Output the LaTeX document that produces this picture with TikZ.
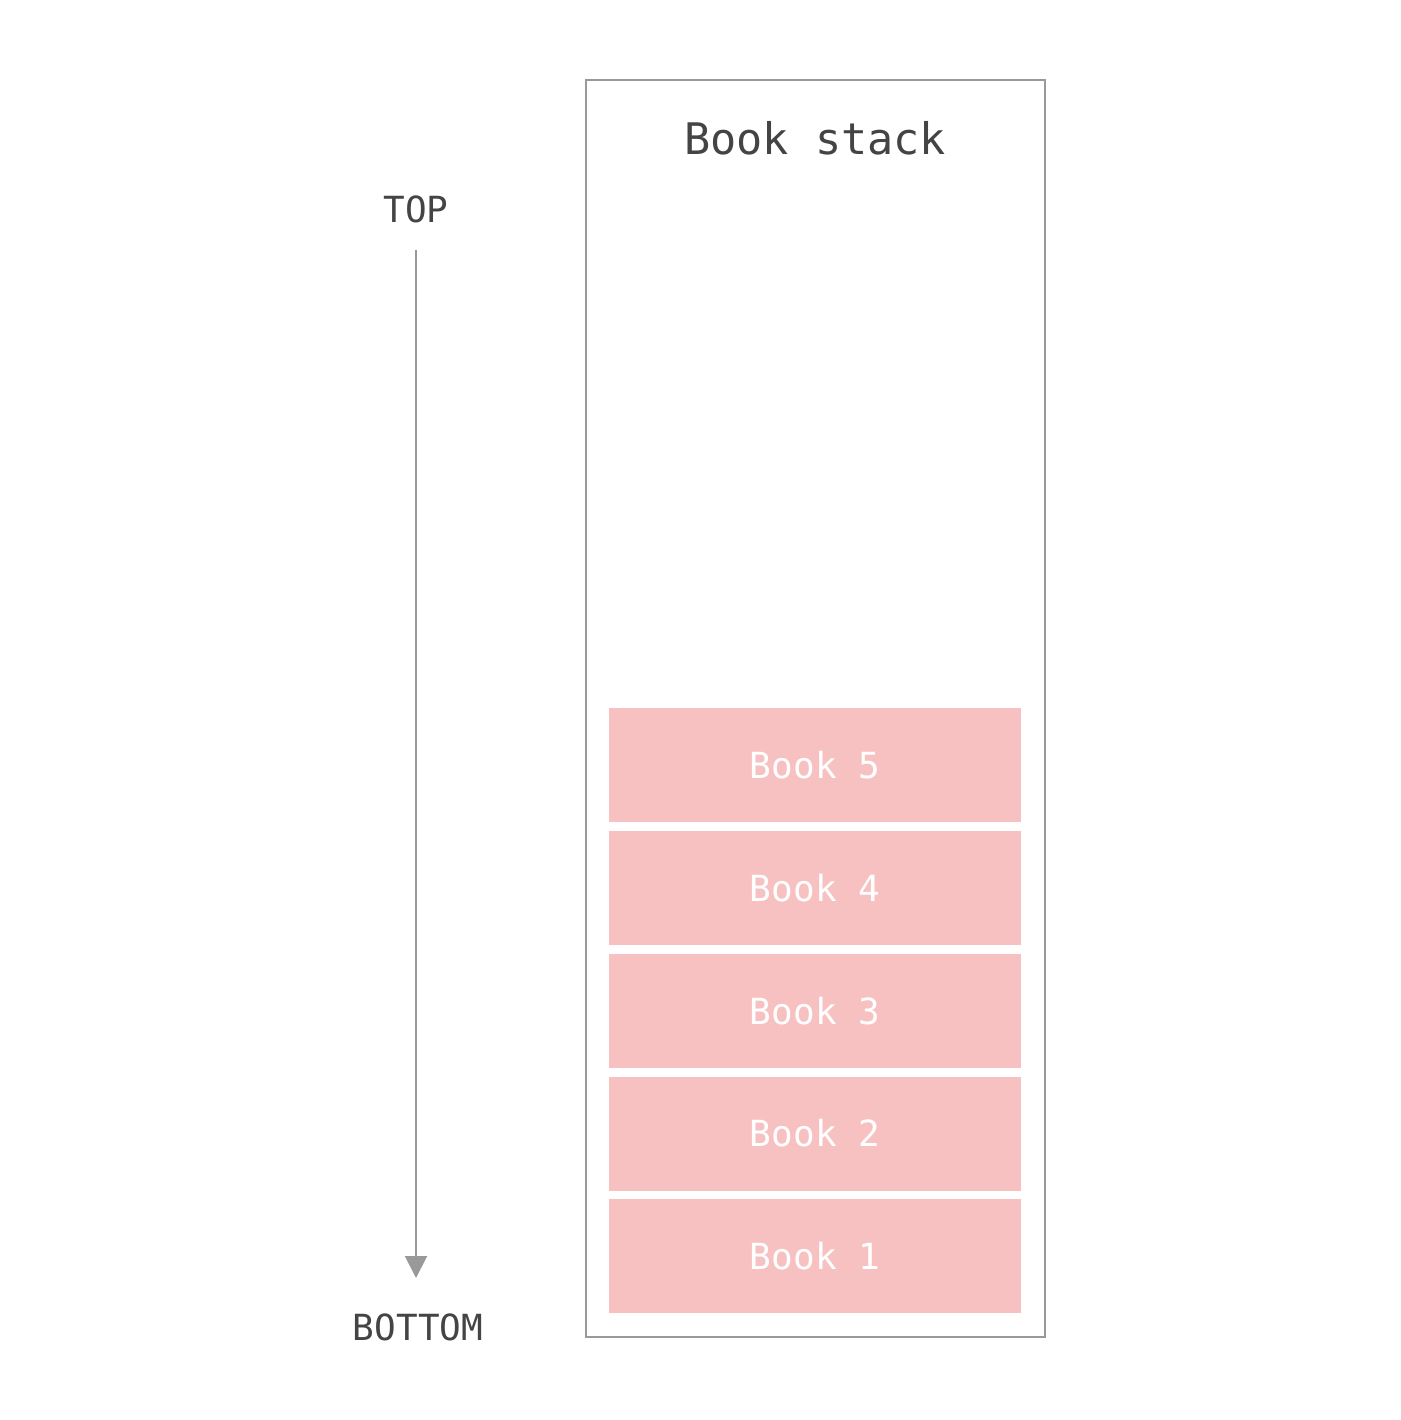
\documentclass[tikz,border=0pt]{standalone}
\usepackage{fontspec}
\setmonofont{DejaVu Sans Mono}
\usetikzlibrary{arrows.meta}
\definecolor{framegray}{HTML}{999999}
\definecolor{textgray}{HTML}{444444}
\definecolor{bookpink}{HTML}{F8C1C1}
\tikzset{
  bookbox/.style={fill=bookpink, draw=none, minimum width=412pt, minimum height=114pt,
    inner sep=0pt, text=white, font=\ttfamily\fontsize{36}{42}\selectfont},
  lbl/.style={text=textgray, inner sep=0pt, font=\ttfamily\fontsize{36}{42}\selectfont},
}
\begin{document}
\begin{tikzpicture}[x=1pt,y=-1pt]
\useasboundingbox (0,0) rectangle (1400,1420);
\node[draw=framegray, line width=2pt, minimum width=459pt, minimum height=1257pt, inner sep=0pt] (stack) at (815.5,708.5) {};
\node[lbl, font=\ttfamily\fontsize{43.5}{50}\selectfont] (title) at (815,138) {Book stack};
\node[bookbox] (b5) at (815,765) {Book 5};
\node[bookbox] (b4) at (815,888) {Book 4};
\node[bookbox] (b3) at (815,1011) {Book 3};
\node[bookbox] (b2) at (815,1133.5) {Book 2};
\node[bookbox] (b1) at (815,1256) {Book 1};
\node[lbl] (top) at (416,209) {TOP};
\node[lbl] (bottom) at (418,1327) {BOTTOM};
\coordinate (astart) at (416,250);
\coordinate (aend) at (416,1278);
\draw[framegray, line width=2pt, -{Triangle[length=22pt,width=22pt]}] (astart) -- (aend);
\end{tikzpicture}
\end{document}
